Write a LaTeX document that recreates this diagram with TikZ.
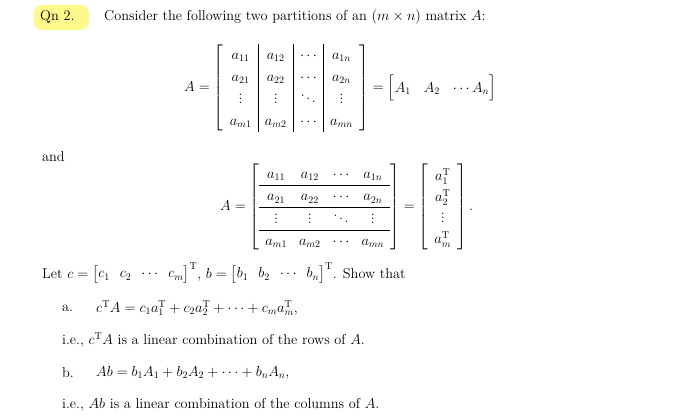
\documentclass[tikz,border=0pt]{standalone}
\usepackage{amsmath}
\usepackage{array}
\begin{document}
\begin{tikzpicture}[x=1pt,y=-1pt,every node/.style={inner sep=0pt,font=\fontsize{14.3}{17}\selectfont},txt/.style={anchor=west}]
\useasboundingbox (0,0) rectangle (700,417);
\fill[yellow!45,rounded corners=8pt] (34,5) rectangle (89,30);
\node[txt] (qn) at (40,17) {Qn 2.};
\node[txt] (intro) at (104,17) {Consider the following two partitions of an $(m\times n)$ matrix $A$:};
\node[txt] (m1) at (184,88) {\renewcommand{\arraystretch}{1.3}\setlength{\arraycolsep}{6.5pt}$A=\left[\begin{array}{c|c|c|c}
a_{11}&a_{12}&\cdots&a_{1n}\\ a_{21}&a_{22}&\cdots&a_{2n}\\ \vdots&\vdots&\ddots&\vdots\\ a_{m1}&a_{m2}&\cdots&a_{mn}\end{array}\right]=\begin{bmatrix}A_1&A_2&\cdots A_n\end{bmatrix}$};
\node[txt] (and) at (42,157) {and};
\node[txt] (m2) at (220,207) {\renewcommand{\arraystretch}{1.05}\setlength{\extrarowheight}{3pt}\setlength{\arraycolsep}{6pt}$A=\left[\begin{array}{cccc}
a_{11}&a_{12}&\cdots&a_{1n}\\[1pt] \hline a_{21}&a_{22}&\cdots&a_{2n}\\[1pt] \hline \vdots&\vdots&\ddots&\vdots\\[1pt] \hline a_{m1}&a_{m2}&\cdots&a_{mn}\end{array}\right]=\left[\begin{array}{c}a_1^{\mathrm T}\\ a_2^{\mathrm T}\\ \vdots\\ a_m^{\mathrm T}\end{array}\right].$};
\node[txt] (let) at (42,273) {Let $c=\begin{bmatrix}c_1&c_2&\cdots&c_m\end{bmatrix}^{\mathrm T}$, $b=\begin{bmatrix}b_1&b_2&\cdots&b_n\end{bmatrix}^{\mathrm T}$. Show that};
\node[txt] (a) at (62,308) {a.};
\node[txt] (fa) at (96,308) {$c^{\mathrm T}A=c_1a_1^{\mathrm T}+c_2a_2^{\mathrm T}+\cdots+c_ma_m^{\mathrm T}$,};
\node[txt] (iea) at (62,340) {i.e., $c^{\mathrm T}A$ is a linear combination of the rows of $A$.};
\node[txt] (b) at (62,373) {b.};
\node[txt] (fb) at (96,373) {$Ab=b_1A_1+b_2A_2+\cdots+b_nA_n$,};
\node[txt] (ieb) at (62,405) {i.e., $Ab$ is a linear combination of the columns of $A$.};
\end{tikzpicture}
\end{document}
